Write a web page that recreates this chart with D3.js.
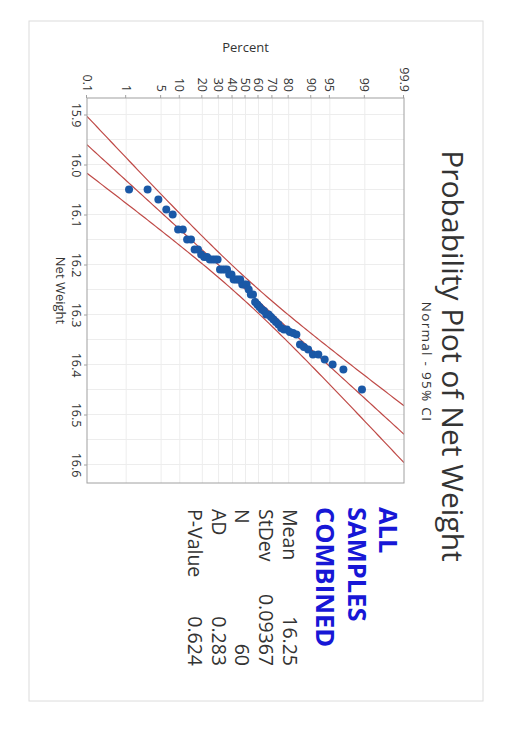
<!DOCTYPE html>
<html>
<head>
<meta charset="utf-8">
<script src="https://cdn.jsdelivr.net/npm/d3@7"></script>
<style>
  body { margin: 0; background: #fff; }
  text { font-family: 'Open Sans', 'Noto Sans', sans-serif; fill: #333; }
</style>
</head>
<body>
<div id="chart"></div>
<script>
// sorted net weights (60 samples)
const netWeight = [
  16.05, 16.05, 16.07, 16.09, 16.10, 16.13, 16.13, 16.15, 16.15, 16.17,
  16.17, 16.18, 16.185, 16.185, 16.19, 16.19, 16.19, 16.19, 16.21, 16.21,
  16.21, 16.21, 16.22, 16.22, 16.23, 16.23, 16.23, 16.23, 16.24, 16.24,
  16.24, 16.25, 16.26, 16.26, 16.275, 16.28, 16.285, 16.29, 16.293, 16.30,
  16.30, 16.305, 16.31, 16.315, 16.32, 16.327, 16.33, 16.33, 16.335, 16.337,
  16.34, 16.36, 16.365, 16.37, 16.38, 16.38, 16.39, 16.40, 16.41, 16.45
];

const percentTicks = [0.1, 1, 5, 10, 20, 30, 40, 50, 60, 70, 80, 90, 95, 99, 99.9];
const weightTicks = [15.9, 16.0, 16.1, 16.2, 16.3, 16.4, 16.5, 16.6];

const statLabels = ['Mean', 'StDev', 'N', 'AD', 'P-Value'];
const statValues = ['16.25', '0.09367', '60', '0.283', '0.624'];
const legendTitle = ['ALL', 'SAMPLES', 'COMBINED'];

const mean = 16.25;
const stdev = 0.09367;
const n = 60;

// inverse normal cdf (Acklam)
function qnorm(p) {
  const a = [-39.69683028665376, 220.9460984245205, -275.9285104469687, 138.3577518672690, -30.66479806614716, 2.506628277459239];
  const b = [-54.47609879822406, 161.5858368580409, -155.6989798598866, 66.80131188771972, -13.28068155288572];
  const c = [-0.007784894002430293, -0.3223964580411365, -2.400758277161838, -2.549732539343734, 4.374664141464968, 2.938163982698783];
  const d = [0.007784695709041462, 0.3224671290700398, 2.445134137142996, 3.754408661907416];
  const pl = 0.02425;
  let q, r;
  if (p < pl) {
    q = Math.sqrt(-2 * Math.log(p));
    return (((((c[0]*q+c[1])*q+c[2])*q+c[3])*q+c[4])*q+c[5]) / ((((d[0]*q+d[1])*q+d[2])*q+d[3])*q+1);
  }
  if (p > 1 - pl) {
    q = Math.sqrt(-2 * Math.log(1 - p));
    return -(((((c[0]*q+c[1])*q+c[2])*q+c[3])*q+c[4])*q+c[5]) / ((((d[0]*q+d[1])*q+d[2])*q+d[3])*q+1);
  }
  q = p - 0.5;
  r = q * q;
  return (((((a[0]*r+a[1])*r+a[2])*r+a[3])*r+a[4])*r+a[5])*q / (((((b[0]*r+b[1])*r+b[2])*r+b[3])*r+b[4])*r+1);
}

//////////////////////////////
// layout (unrotated frame) //
//////////////////////////////

// the whole figure is drawn landscape then turned 90deg clockwise
const W = 736, H = 508;
const plot = { left: 98, right: 483, top: 104, bottom: 421 };

const svg = d3.select('#chart').append('svg')
  .attr('width', H)
  .attr('height', W);

const g = svg.append('g')
  .attr('transform', `translate(${H},0) rotate(90)`);

// outer border
g.append('rect')
  .attr('x', 21).attr('y', 25)
  .attr('width', 680).attr('height', 454)
  .attr('fill', 'none')
  .attr('stroke', '#dcdcdc');

const zMin = qnorm(0.001), zMax = qnorm(0.999);

const xScale = d3.scaleLinear()
  .domain([15.867, 16.637])
  .range([plot.left, plot.right]);

const yScale = d3.scaleLinear()
  .domain([zMin, zMax])
  .range([plot.bottom, plot.top]);

// grid
const grid = g.append('g');
grid.selectAll('.vgrid')
  .data(d3.range(15.9, 16.64, 0.05))
  .enter().append('line')
  .attr('x1', d => xScale(d)).attr('x2', d => xScale(d))
  .attr('y1', plot.top).attr('y2', plot.bottom)
  .attr('stroke', '#ededed');

grid.selectAll('.hgrid')
  .data(percentTicks.slice(1, -1))
  .enter().append('line')
  .attr('x1', plot.left).attr('x2', plot.right)
  .attr('y1', d => yScale(qnorm(d / 100))).attr('y2', d => yScale(qnorm(d / 100)))
  .attr('stroke', '#ededed');

// fitted line + 95% CI (from the displayed Mean / StDev / N)
g.append('clipPath').attr('id', 'clip')
  .append('rect')
  .attr('x', plot.left).attr('y', plot.top)
  .attr('width', plot.right - plot.left).attr('height', plot.bottom - plot.top);

const zs = d3.range(zMin, zMax + 0.001, (zMax - zMin) / 120);
const band = k => zs.map(z => [mean + z * stdev + k * 1.96 * stdev * Math.sqrt(1 / n + z * z / (2 * n)), z]);

const line = d3.line()
  .x(d => xScale(d[0]))
  .y(d => yScale(d[1]));

g.append('g').attr('clip-path', 'url(#clip)')
  .selectAll('path')
  .data([band(-1), band(0), band(1)])
  .enter().append('path')
  .attr('d', line)
  .attr('fill', 'none')
  .attr('stroke', '#bf4a47')
  .attr('stroke-width', 1.2);

// points at median ranks
g.append('g')
  .selectAll('circle')
  .data(netWeight)
  .enter().append('circle')
  .attr('cx', d => xScale(d))
  .attr('cy', (d, i) => yScale(qnorm((i + 1 - 0.3) / (n + 0.4))))
  .attr('r', 4)
  .attr('fill', '#1a58a6');

// frame
g.append('rect')
  .attr('x', plot.left).attr('y', plot.top)
  .attr('width', plot.right - plot.left).attr('height', plot.bottom - plot.top)
  .attr('fill', 'none')
  .attr('stroke', '#a0a0a0');

// axes
const xAxis = g.append('g')
  .attr('transform', `translate(0,${plot.bottom})`)
  .call(d3.axisBottom(xScale).tickValues(weightTicks).tickFormat(d3.format('.1f')).tickSize(3).tickPadding(3));

const yAxis = g.append('g')
  .attr('transform', `translate(${plot.left},0)`)
  .call(d3.axisLeft(yScale)
    .tickValues(percentTicks.map(p => qnorm(p / 100)))
    .tickFormat((d, i) => percentTicks[i])
    .tickSize(3).tickPadding(3));

[xAxis, yAxis].forEach(a => {
  a.select('.domain').remove();
  a.selectAll('.tick line').attr('stroke', '#a0a0a0');
  a.selectAll('.tick text').style('font-size', '12.5px').attr('fill', '#333');
});

g.append('text')
  .attr('x', (plot.left + plot.right) / 2).attr('y', 452)
  .attr('text-anchor', 'middle')
  .style('font-size', '13px')
  .text('Net Weight');

g.append('text')
  .attr('transform', `translate(52,${(plot.top + plot.bottom) / 2}) rotate(-90)`)
  .attr('text-anchor', 'middle')
  .style('font-size', '13px')
  .text('Percent');

// titles
g.append('text')
  .attr('x', 356).attr('y', 66)
  .attr('text-anchor', 'middle')
  .style('font-size', '30px')
  .text('Probability Plot of Net Weight');

g.append('text')
  .attr('x', 362).attr('y', 86)
  .attr('text-anchor', 'middle')
  .style('font-size', '13.5px')
  .style('letter-spacing', '1.3px')
  .attr('fill', '#555')
  .text('Normal - 95% CI');

// legend block
g.append('g').selectAll('text')
  .data(legendTitle)
  .enter().append('text')
  .attr('x', 507).attr('y', (d, i) => 129 + i * 31.5)
  .style('font-size', '25.5px')
  .style('font-weight', 'bold')
  .style('fill', '#1717d6')
  .text(d => d);

const stats = g.append('g');
stats.selectAll('.lab')
  .data(statLabels)
  .enter().append('text')
  .attr('x', 509).attr('y', (d, i) => 225 + i * 23.8)
  .style('font-size', '19.5px')
  .text(d => d);

stats.selectAll('.val')
  .data(statValues)
  .enter().append('text')
  .attr('x', 666).attr('y', (d, i) => 225 + i * 23.8)
  .attr('text-anchor', 'end')
  .style('font-size', '19.5px')
  .text(d => d);
</script>
</body>
</html>
